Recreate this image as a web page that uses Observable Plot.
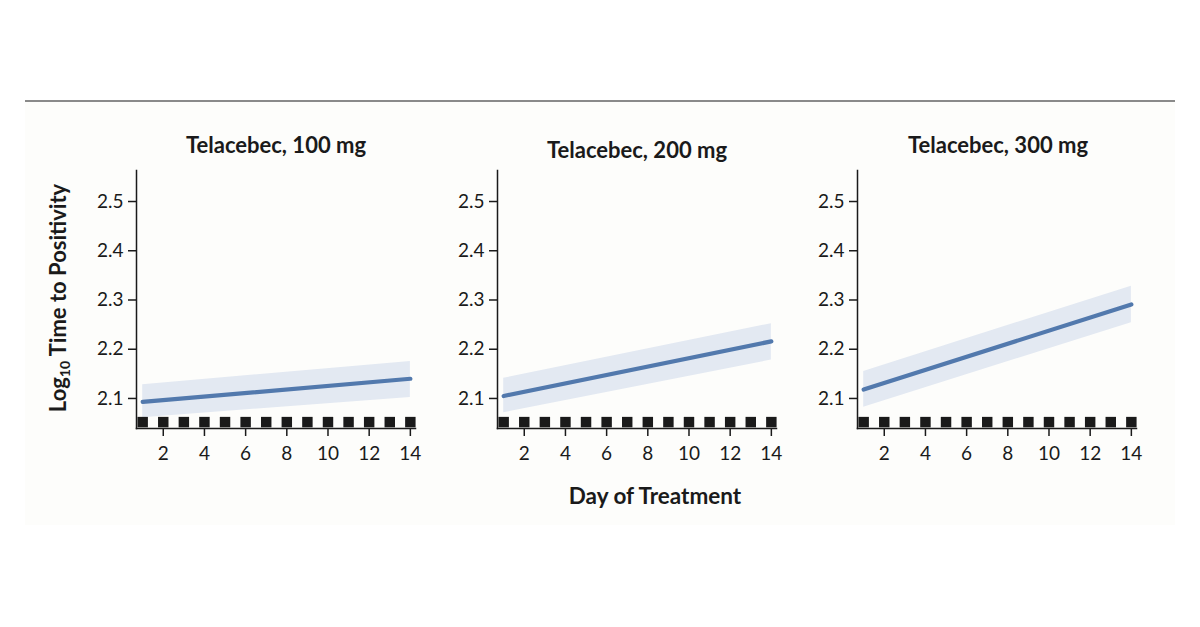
<!DOCTYPE html>
<html>
<head>
<meta charset="utf-8">
<script src="https://cdn.jsdelivr.net/npm/d3@7"></script>
<script src="https://cdn.jsdelivr.net/npm/@observablehq/plot@0.6"></script>
<style>
  html, body { margin: 0; padding: 0; background: #ffffff; }
  #root { position: relative; width: 1200px; height: 627px; overflow: hidden; font-family: Lato, "Open Sans", sans-serif; color: #1a1a1a; }
  #panelbg { position: absolute; left: 25px; top: 102px; width: 1150px; height: 423px; background: #fdfdfb; }
  #rule { position: absolute; left: 25px; top: 100px; width: 1150px; height: 1.5px; background: #8a8a8a; }
  .title { position: absolute; width: 300px; text-align: center; font-weight: 700; font-size: 22px; }
  .panel { position: absolute; }
  .panel text { font-size: 19px !important; font-family: Lato, "Open Sans", sans-serif !important; }
  #ylabel { position: absolute; left: 57px; top: 298px; transform: translate(-50%, -50%) rotate(-90deg); white-space: nowrap; font-weight: 700; font-size: 22px; }
  #ylabel sub { font-size: 14px; vertical-align: -4px; line-height: 0; }
  #xlabel { position: absolute; left: 505px; width: 300px; top: 482px; text-align: center; font-weight: 700; font-size: 22.5px; }
</style>
</head>
<body>
<div id="root">
  <div id="panelbg"></div>
  <div id="rule"></div>
  <div id="ylabel">Log<sub>10</sub> Time to Positivity</div>
  <div id="xlabel">Day of Treatment</div>
</div>
<script>
// ---- data ----
const panelTitles = ["Telacebec, 100 mg", "Telacebec, 200 mg", "Telacebec, 300 mg"];
const days = [1, 14];
const fitValues = [[2.093, 2.140], [2.105, 2.216], [2.118, 2.291]];
const bandLower = [[2.061, 2.102], [2.071, 2.178], [2.082, 2.254]];
const bandUpper = [[2.128, 2.175], [2.141, 2.252], [2.155, 2.328]];
const markerDays = [1, 2, 3, 4, 5, 6, 7, 8, 9, 10, 11, 12, 13, 14];
const markerLevel = 2.052;
const xTicks = [2, 4, 6, 8, 10, 12, 14];
const yTicks = [2.1, 2.2, 2.3, 2.4, 2.5];
const xDomain = [0.7, 14.25];
const yDomain = [2.039, 2.563];

const root = document.getElementById("root");
const axisLefts = [136, 497, 857];
const titleCenters = [276, 637, 998];
const titleTops = [131, 136, 131];
const mL = 60, mR = 22, mT = 10, mB = 42, frameW = 279, frameH = 258;

panelTitles.forEach((t, i) => {
  const rows = days.map((d, j) => ({day: d, fit: fitValues[i][j], lo: bandLower[i][j], hi: bandUpper[i][j]}));
  const markers = markerDays.map(d => ({day: d, v: markerLevel}));
  const chart = Plot.plot({
    width: mL + frameW + mR,
    height: mT + frameH + mB,
    marginLeft: mL, marginRight: mR, marginTop: mT, marginBottom: mB,
    style: {background: "transparent", fontFamily: "Lato, 'Open Sans', sans-serif", fontSize: "19px", color: "#1a1a1a", overflow: "visible"},
    x: {domain: xDomain, ticks: xTicks, tickFormat: d => String(d), label: null},
    y: {domain: yDomain, ticks: yTicks, tickFormat: d3.format(".1f"), label: null},
    marks: [
      Plot.areaY(rows, {x: "day", y1: "lo", y2: "hi", fill: "#e3e9f2"}),
      Plot.lineY(rows, {x: "day", y: "fit", stroke: "#5279ad", strokeWidth: 4.2}),
      Plot.dot(markers, {x: "day", y: "v", symbol: "square", r: 5.9, fill: "#1a1a1a", stroke: "none"}),
      Plot.axisX({ticks: xTicks, tickSize: 8, tickPadding: 10, fontSize: 19, tickFormat: d => String(d), label: null, stroke: "#1a1a1a", strokeWidth: 1.5, fill: "#1a1a1a"}),
      Plot.axisY({ticks: yTicks, tickSize: 8, tickPadding: 5, fontSize: 19, tickFormat: d3.format(".1f"), label: null, stroke: "#1a1a1a", strokeWidth: 1.5, fill: "#1a1a1a"}),
      Plot.frame({anchor: "left", stroke: "#1a1a1a", strokeWidth: 1.5}),
      Plot.frame({anchor: "bottom", stroke: "#1a1a1a", strokeWidth: 1.5})
    ]
  });
  chart.classList.add("panel");
  chart.style.left = (axisLefts[i] - mL) + "px";
  chart.style.top = (170 - mT) + "px";
  root.appendChild(chart);

  const title = document.createElement("div");
  title.className = "title";
  title.textContent = t;
  title.style.left = (titleCenters[i] - 150) + "px";
  title.style.top = titleTops[i] + "px";
  root.appendChild(title);
});
</script>
</body>
</html>
